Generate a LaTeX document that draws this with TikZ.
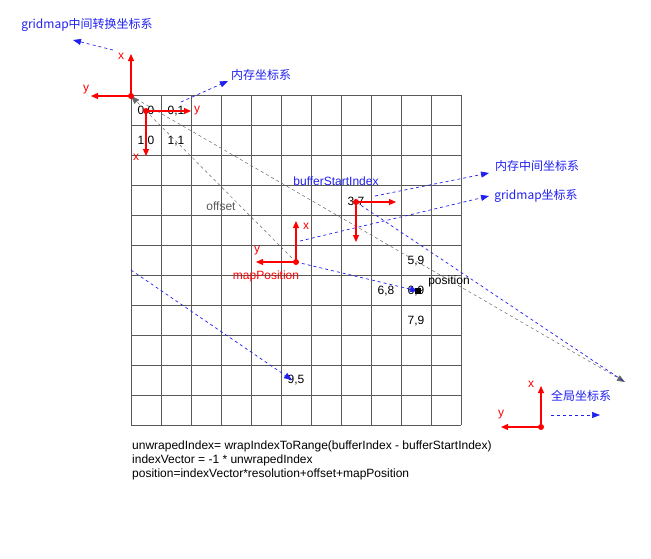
\documentclass[tikz,border=0pt]{standalone}
\usepackage{fontspec}
\setmainfont{Liberation Sans}
\newfontfamily\cjk{Noto Sans CJK SC}
\usetikzlibrary{arrows.meta,positioning}
\definecolor{bl}{HTML}{2020F0}
\definecolor{rd}{HTML}{FF0000}
\begin{document}
\begin{tikzpicture}[x=1pt,y=-1pt,font=\fontsize{12}{14}\selectfont,
  ax/.style={rd,line width=1.2pt,-{Triangle[length=7pt,width=6pt]}},
  bd/.style={bl,dashed,line width=0.7pt,-{Triangle[length=8pt,width=6pt]}},
  gd/.style={gray!80!black,dashed,line width=0.5pt,-{Triangle[length=8pt,width=6pt]}},
  dot/.style={circle,fill=rd,inner sep=0pt,minimum size=6pt},
  lbl/.style={inner sep=1pt},
  rl/.style={rd,inner sep=1pt},
  cl/.style={inner sep=0pt}]
\useasboundingbox (0,0) rectangle (651,558);
\foreach \i in {0,...,11}{
  \draw[gray!70!black,line width=0.7pt] (131+30*\i,95) -- (131+30*\i,425);
  \draw[gray!70!black,line width=0.7pt] (131,95+30*\i) -- (461,95+30*\i);
}
% cell labels
\node[cl] (c00) at (146,111) {0,0};
\node[cl] (c01) at (176,111) {0,1};
\node[cl] (c10) at (146,141) {1,0};
\node[cl] (c11) at (176,141) {1,1};
\node[cl] (c37) at (356,202) {3,7};
\node[cl] (c59) at (416,261) {5,9};
\node[cl] (c68) at (386,291) {6,8};
\node[cl] (c69) at (416,291) {6,9};
\node[cl] (c79) at (416,321) {7,9};
\node[cl] (c95) at (296,380) {9,5};
% coordinates
\coordinate (O) at (131,96);
\coordinate (M) at (296,262);
\coordinate (B) at (356,202);
\coordinate (P) at (418,291);
\coordinate (G) at (541,427);
\coordinate (far) at (625,382);
% gray dashed
\draw[gd] (M) -- (O);
\draw[gd] (O) -- (far);
\node[gray!70!black,lbl] (off) at (221,206) {offset};
% blue dashed
\draw[bl,dashed,line width=0.7pt] (B) -- (far);
\draw[bd] (113,50) -- (73,40);
\node[bl,lbl] (t1) at (87,25) {\cjk gridmap中间转换坐标系};
\draw[bd] (181,102) -- (228,81);
\node[bl,lbl] (t2) at (261,75) {\cjk 内存坐标系};
\draw[bd] (375,196) -- (489,173);
\node[bl,lbl] (t3) at (537,166) {\cjk 内存中间坐标系};
\draw[bd] (300,241) -- (489,196);
\node[bl,lbl] (t4) at (536,196) {\cjk gridmap坐标系};
\draw[bd] (M) -- (P);
\draw[bd] (131,270) -- (292,380);
\draw[bd] (551,415) -- (600,415);
\node[bl,lbl] (t5) at (581,396) {\cjk 全局坐标系};
\node[bl,lbl] (bsi) at (336,181) {bufferStartIndex};
\node[lbl] (pos) at (449,281) {position};
\fill (P) +(-3,-3) rectangle +(3,3);
% red frames
\draw[ax] (O) -- (131,54);
\node[rl] at (121,56) {x};
\draw[ax] (O) -- (91,96);
\node[rl] at (86,90) {y};
\node[dot] at (O) {};
\draw[ax] (146,111) -- (191,111);
\node[rl] at (197,111) {y};
\draw[ax] (146,111) -- (146,156);
\node[rl] at (136,157) {x};
\node[dot] at (146,111) {};
\draw[ax] (B) -- (396,202);
\draw[ax] (B) -- (356,242);
\node[dot] at (B) {};
\draw[ax] (M) -- (296,221);
\node[rl] at (306,226) {x};
\draw[ax] (M) -- (256,262);
\node[rl] at (257,251) {y};
\node[dot] at (M) {};
\node[rl] (mp) at (266,276) {mapPosition};
\draw[ax] (G) -- (541,386);
\node[rl] at (531,384) {x};
\draw[ax] (G) -- (501,427);
\node[rl] at (501,415) {y};
\node[dot] at (G) {};
% formulas
\node[anchor=west,inner sep=0pt] (f1) at (132,446) {unwrapedIndex= wrapIndexToRange(bufferIndex - bufferStartIndex)};
\node[anchor=west,inner sep=0pt] (f2) at (132,460) {indexVector = -1 * unwrapedIndex};
\node[anchor=west,inner sep=0pt] (f3) at (132,474) {position=indexVector*resolution+offset+mapPosition};
\end{tikzpicture}
\end{document}
